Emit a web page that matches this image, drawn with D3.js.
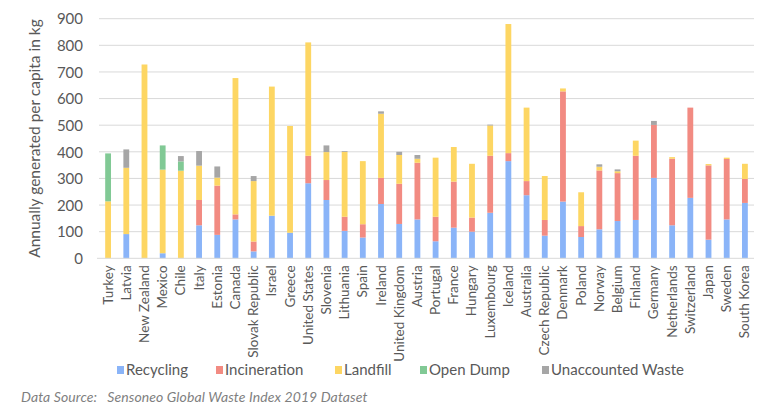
<!DOCTYPE html>
<html><head><meta charset="utf-8">
<script src="https://cdn.jsdelivr.net/npm/d3@7"></script>
<style>
body{margin:0;background:#fff;}
svg{display:block;font-family:Lato,"Open Sans",sans-serif;}
</style></head>
<body><svg id="c" width="768" height="413"></svg>
<script>
const countries = ["Turkey","Latvia","New Zealand","Mexico","Chile","Italy","Estonia","Canada","Slovak Republic","Israel","Greece","United States","Slovenia","Lithuania","Spain","Ireland","United Kingdom","Austria","Portugal","France","Hungary","Luxembourg","Iceland","Australia","Czech Republic","Denmark","Poland","Norway","Belgium","Finland","Germany","Netherlands","Switzerland","Japan","Sweden","South Korea"];
const recycling   = [0,91,0,19,0,124,88,146,26,160,96,282,219,103,78,204,129,146,64,115,100,171,365,237,85,213,80,109,140,144,302,124,227,70,146,208];
const incineration= [0,0,0,0,0,95,185,19,37,0,0,103,75,53,50,98,151,213,92,173,53,214,30,53,59,414,41,221,180,241,199,250,339,279,227,90];
const landfill    = [214,249,728,314,329,129,30,512,227,485,401,426,105,244,237,241,108,15,222,130,202,114,485,276,165,11,127,14,7,57,0,6,0,5,5,57];
const openDump    = [180,0,0,91,35,0,0,0,0,0,0,0,0,0,0,0,0,0,0,0,0,0,0,0,0,0,0,0,0,0,0,0,0,0,0,0];
const unaccounted = [0,69,0,0,20,55,42,0,19,0,0,0,25,3,0,9,12,14,0,0,0,3,0,0,0,0,0,9,7,0,15,0,0,0,0,0];
const seriesNames = ["Recycling","Incineration","Landfill","Open Dump","Unaccounted Waste"];
const seriesColors = ["#8AB4F8","#F28B82","#FDD663","#81C995","#A6A6A6"];
const yTicks = [0,100,200,300,400,500,600,700,800,900];

const svg = d3.select("#c");
const m = {l:99, r:14, t:18.7, b:154.7};
const W = 768, H = 413;
const x = d3.scaleBand().domain(countries).range([m.l, W-m.r]).paddingInner(0.68).paddingOuter(0.34);
const y = d3.scaleLinear().domain([0,900]).range([H-m.b, m.t]);

const rows = countries.map((c,i)=>({country:c, "Recycling":recycling[i], "Incineration":incineration[i], "Landfill":landfill[i], "Open Dump":openDump[i], "Unaccounted Waste":unaccounted[i]}));
const stack = d3.stack().keys(seriesNames)(rows);

// grid
svg.append("g").selectAll("line").data(yTicks.slice(1)).join("line")
  .attr("x1", m.l).attr("x2", W-m.r).attr("y1", d=>y(d)).attr("y2", d=>y(d))
  .attr("stroke","#d9d9d9").attr("stroke-width",1);

// bars
svg.append("g").selectAll("g").data(stack).join("g")
  .attr("fill",(d,i)=>seriesColors[i])
  .selectAll("rect").data(d=>d).join("rect")
  .attr("x", d=>x(d.data.country))
  .attr("width", x.bandwidth())
  .attr("y", d=>y(d[1]))
  .attr("height", d=>Math.max(0, y(d[0])-y(d[1])));

// baseline
svg.append("line").attr("x1", m.l-2).attr("x2", W-m.r).attr("y1", y(0)).attr("y2", y(0))
  .attr("stroke","#d9d9d9").attr("stroke-width",1);

// y axis labels
const ya = svg.append("g").attr("transform",`translate(${m.l-16},0)`)
  .call(d3.axisLeft(y).tickValues(yTicks).tickSize(0).tickPadding(0));
ya.select(".domain").remove();
ya.selectAll("text").attr("font-size",15).attr("fill","#595959").attr("font-family","Lato,sans-serif").attr("dy","0.35em");

// x axis labels
const xa = svg.append("g").attr("transform",`translate(0,${y(0)})`)
  .call(d3.axisBottom(x).tickSize(0).tickPadding(0));
xa.select(".domain").remove();
xa.selectAll("text")
  .attr("font-size",13.5).attr("fill","#595959").attr("font-family","Lato,sans-serif")
  .attr("text-anchor","end").attr("dy",null).attr("y",0)
  .attr("transform","translate(4.5,7) rotate(-90)");

// y title
svg.append("text").attr("transform",`translate(40,${(y(0)+y(900))/2 + 0}) rotate(-90)`)
  .attr("text-anchor","middle").attr("font-size",15.5).attr("fill","#595959")
  .text("Annually generated per capita in kg");

// legend
const legX = [117,216,335,420,542];
const lg = svg.append("g").selectAll("g").data(seriesNames).join("g")
  .attr("transform",(d,i)=>`translate(${legX[i]},370)`);
lg.append("rect").attr("x",0).attr("y",-4).attr("width",7).attr("height",8).attr("fill",(d,i)=>seriesColors[i]);
lg.append("text").attr("x",9).attr("y",0).attr("dy","0.35em").attr("font-size",15).attr("fill","#595959").text(d=>d);

// source
svg.append("text").attr("x",21).attr("y",402).attr("font-size",14).attr("letter-spacing",0.1).attr("font-style","italic")
  .attr("fill","#7f7f7f").attr("xml:space","preserve").text("Data Source:   Sensoneo Global Waste Index 2019 Dataset");
</script></body></html>
